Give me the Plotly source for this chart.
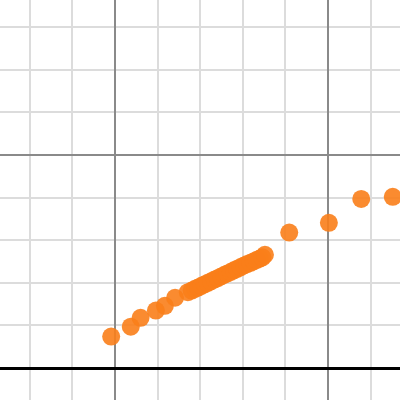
import plotly.graph_objects as go

# scatter points
x_vals = [4.91, 5.37, 5.60, 5.96, 6.17, 6.41,
          6.71, 6.80, 6.88, 6.95, 7.03, 7.11, 7.18, 7.26, 7.34, 7.41, 7.49, 7.57,
          7.64, 7.72, 7.80, 7.87, 7.95, 8.03, 8.10, 8.18, 8.26, 8.33, 8.40, 8.46, 8.52,
          9.09, 10.02, 10.78, 11.52]
y_vals = [0.74, 0.97, 1.18, 1.35, 1.46, 1.65,
          1.78, 1.82, 1.86, 1.89, 1.93, 1.97, 2.00, 2.04, 2.08, 2.11, 2.15, 2.19,
          2.22, 2.26, 2.30, 2.33, 2.37, 2.41, 2.44, 2.47, 2.51, 2.54, 2.57, 2.60, 2.66,
          3.18, 3.41, 3.97, 4.02]

fig = go.Figure()
fig.add_trace(go.Scatter(
    x=x_vals,
    y=y_vals,
    mode="markers",
    marker=dict(color="#fa7e19", size=18, opacity=0.9, line=dict(width=0)),
    hoverinfo="skip",
))

axis_style = dict(
    showticklabels=False,
    ticks="",
    dtick=5,
    tick0=0,
    showgrid=True,
    gridcolor="#8a8a8a",
    gridwidth=1.5,
    minor=dict(dtick=1, showgrid=True, gridcolor="#dcdcdc", gridwidth=1.5),
    showline=False,
    zeroline=True,
    zerolinecolor="black",
    zerolinewidth=3,
)

fig.update_xaxes(range=[2.30, 11.69], **axis_style)
fig.update_yaxes(range=[-0.75, 8.64], **axis_style)
fig.update_layout(
    width=400,
    height=400,
    margin=dict(l=0, r=0, t=0, b=0),
    paper_bgcolor="white",
    plot_bgcolor="white",
    showlegend=False,
)
# the default page body has an 8px margin, drop it so the plot sits at 0,0
fig.write_html(
    "out.html",
    config={"displayModeBar": False},
    post_script="document.body.style.margin='0';",
)
